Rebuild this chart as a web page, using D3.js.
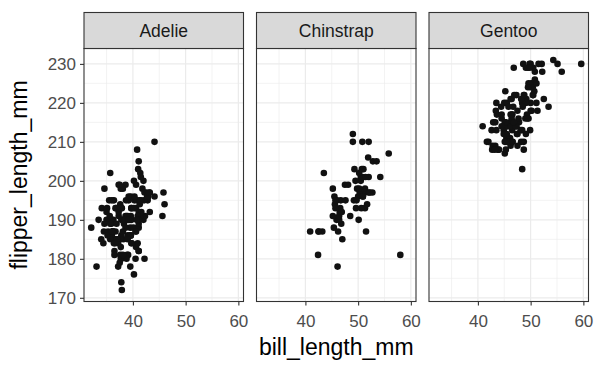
<!DOCTYPE html>
<html>
<head>
<meta charset="utf-8">
<script src="https://cdn.jsdelivr.net/npm/d3@7"></script>
<style>
  body { margin: 0; background: #fff; }
  text { font-family: "Liberation Sans", Arial, sans-serif; }
</style>
</head>
<body>
<svg id="chart" width="602" height="372"></svg>
<script>
// bill_length_mm, flipper_length_mm
const adelie = [[39.1,181],[39.5,186],[40.3,195],[36.7,193],[39.3,190],[38.9,181],[39.2,195],[34.1,193],[42,190],[37.8,186],
  [37.8,180],[41.1,182],[38.6,191],[34.6,198],[36.6,185],[38.7,195],[42.5,197],[34.4,184],[46,194],[37.8,174],
  [37.7,180],[35.9,189],[38.2,185],[38.8,180],[35.3,187],[40.6,183],[40.5,187],[37.9,172],[40.5,180],[39.5,178],
  [37.2,178],[39.5,188],[40.9,184],[36.4,195],[39.2,196],[38.8,190],[42.2,180],[37.6,181],[39.8,184],[36.5,182],
  [40.8,195],[36,186],[44.1,196],[37,185],[39.6,190],[41.1,182],[37.5,179],[36,190],[42.3,191],[39.6,186],
  [40.1,188],[35,190],[42,200],[34.5,187],[41.4,191],[39,186],[40.6,193],[36.5,181],[37.6,194],[35.7,185],
  [41.3,195],[37.6,185],[41.1,192],[36.4,184],[41.6,192],[35.5,195],[41.1,188],[35.9,190],[41.8,198],[33.5,190],
  [39.7,190],[39.6,196],[45.8,197],[35.5,190],[42.8,195],[40.9,191],[37.2,184],[36.2,187],[42.1,195],[34.6,189],
  [42.9,196],[36.7,187],[35.1,193],[37.3,191],[41.3,194],[36.3,190],[36.9,189],[38.3,189],[38.9,190],[35.7,202],
  [41.1,205],[34,185],[39.6,186],[36.2,187],[40.8,208],[38.1,190],[40.3,196],[33.1,178],[43.2,192],[35,192],
  [41,203],[37.7,183],[37.8,190],[37.9,193],[39.7,184],[38.6,199],[38.2,190],[38.1,181],[43.2,197],[38.1,198],
  [45.6,191],[39.7,193],[42.2,197],[39.6,191],[42.7,196],[38.6,188],[37.3,199],[35.7,189],[41.1,189],[36.2,187],
  [37.7,198],[40.2,176],[41.4,202],[35.2,186],[40.6,199],[38.8,191],[41.5,195],[39,191],[44.1,210],[38.5,190],
  [43.1,197],[36.8,193],[37.5,199],[38.1,187],[41.1,190],[35.6,191],[40.2,200],[37,185],[39.7,193],[40.2,193],
  [40.6,187],[32.1,188],[40.7,190],[37.3,192],[39,185],[39.2,190],[36.6,184],[36,195],[37.8,193],[36,187],[41.5,201]];

const chinstrap = [[46.5,192],[50,196],[51.3,193],[45.4,188],[52.7,197],[45.2,198],[46.1,178],[51.3,197],[46,195],[51.3,198],
  [46.6,193],[51.7,194],[47,185],[52,201],[45.9,190],[50.5,201],[50.3,197],[58,181],[46.4,190],[49.2,195],
  [42.4,181],[48.5,191],[43.2,187],[50.6,193],[46.7,195],[52,197],[50.5,200],[49.5,200],[46.4,191],[52.8,205],
  [40.9,187],[54.2,201],[42.5,187],[51,203],[49.7,195],[47.5,199],[47.6,195],[52,210],[46.9,192],[53.5,205],
  [49,210],[46.2,187],[50.9,196],[45.5,196],[50.9,196],[50.8,201],[50.1,190],[49,212],[51.5,187],[49.8,198],
  [48.1,199],[51.4,201],[45.7,193],[50.7,203],[42.5,187],[52.2,197],[45.2,191],[49.3,203],[50.2,202],[45.6,194],
  [51.9,206],[46.8,189],[45.7,195],[55.8,207],[43.5,202],[49.6,193],[50.8,210],[50.2,198]];

const gentoo = [[46.1,211],[50,230],[48.7,210],[50,218],[47.6,215],[46.5,210],[45.4,211],[46.7,219],[43.3,209],[46.8,215],
  [40.9,214],[49,216],[45.5,214],[48.4,213],[45.8,210],[49.3,217],[42,210],[49.2,221],[46.2,209],[48.7,222],
  [50.2,218],[45.1,215],[46.5,213],[46.3,215],[42.9,215],[46.1,215],[44.5,216],[47.8,215],[48.2,210],[50,220],
  [47.3,222],[42.8,209],[45.1,207],[59.6,230],[49.1,220],[48.4,220],[42.6,213],[44.4,219],[44,208],[48.7,208],
  [42.7,208],[49.6,225],[45.3,210],[49.6,216],[50.5,222],[43.6,217],[45.5,210],[50.5,225],[44.9,213],[45.2,215],
  [46.6,210],[48.5,220],[45.1,210],[50.1,225],[46.5,217],[45,220],[43.8,208],[45.5,220],[43.2,208],[50.4,224],
  [45.3,208],[46.2,221],[45.7,214],[54.3,231],[45.8,219],[49.8,230],[46.2,214],[49.5,229],[43.5,220],[50.7,223],
  [47.7,216],[46.4,221],[48.2,221],[46.5,217],[46.4,216],[48.6,230],[47.5,209],[51.1,220],[45.2,215],[45.2,223],
  [49.1,212],[52.5,221],[47.4,212],[50,224],[44.9,212],[50.8,228],[43.4,218],[51.3,218],[47.5,212],[52.1,230],
  [47.5,218],[52.2,228],[45.5,212],[49.5,224],[44.5,214],[50.8,226],[49.4,216],[46.9,222],[48.4,203],[51.1,225],
  [48.5,219],[55.9,228],[47.2,214],[49.1,229],[47.3,214],[46.8,229],[41.7,210],[53.4,219],[43.3,215],[48.1,213],
  [50.5,229],[49.8,229],[43.5,213],[51.5,230],[46.2,217],[55.1,230],[44.5,217],[48.8,222],[47.2,214],[46.8,215],
  [50.4,222],[45.2,212],[49.9,213]];

const species = ["Adelie", "Chinstrap", "Gentoo"];
const panelData = [adelie, chinstrap, gentoo];
const xTicks = [40, 50, 60];
const xMinor = [35, 45, 55];
const yTicks = [170, 180, 190, 200, 210, 220, 230];
const yMinor = [175, 185, 195, 205, 215, 225];

const svg = d3.select("#chart");
const left = 84, panelW = 159.5, gap = 13;
const stripTop = 12.5, stripH = 36, panelTop = stripTop + stripH, panelBottom = 301.5;
const tickFont = 17, stripFont = 17.5, titleFont = 23;

// ggplot-style 5% expansion
const xr = [32.1, 59.6], yr = [172, 231];
const xpad = (xr[1] - xr[0]) * 0.05, ypad = (yr[1] - yr[0]) * 0.05;
const y = d3.scaleLinear().domain([yr[0] - ypad, yr[1] + ypad]).range([panelBottom, panelTop]);

species.forEach((name, i) => {
  const x0 = left + i * (panelW + gap);
  const x = d3.scaleLinear().domain([xr[0] - xpad, xr[1] + xpad]).range([x0, x0 + panelW]);
  const g = svg.append("g");

  g.append("rect").attr("x", x0).attr("y", panelTop).attr("width", panelW).attr("height", panelBottom - panelTop).attr("fill", "#fff");

  // grid
  g.selectAll(".vmin").data(xMinor).join("line")
    .attr("x1", d => x(d)).attr("x2", d => x(d)).attr("y1", panelTop).attr("y2", panelBottom)
    .attr("stroke", "#ebebeb").attr("stroke-width", 0.6);
  g.selectAll(".hmin").data(yMinor).join("line")
    .attr("x1", x0).attr("x2", x0 + panelW).attr("y1", d => y(d)).attr("y2", d => y(d))
    .attr("stroke", "#ebebeb").attr("stroke-width", 0.6);
  g.selectAll(".vmaj").data(xTicks).join("line")
    .attr("x1", d => x(d)).attr("x2", d => x(d)).attr("y1", panelTop).attr("y2", panelBottom)
    .attr("stroke", "#ebebeb").attr("stroke-width", 1.2);
  g.selectAll(".hmaj").data(yTicks).join("line")
    .attr("x1", x0).attr("x2", x0 + panelW).attr("y1", d => y(d)).attr("y2", d => y(d))
    .attr("stroke", "#ebebeb").attr("stroke-width", 1.2);

  // points
  g.selectAll("circle").data(panelData[i]).join("circle")
    .attr("cx", d => x(d[0])).attr("cy", d => y(d[1])).attr("r", 3.3)
    .attr("fill", "#111");

  // panel border
  g.append("rect").attr("x", x0).attr("y", panelTop).attr("width", panelW).attr("height", panelBottom - panelTop)
    .attr("fill", "none").attr("stroke", "#333").attr("stroke-width", 1.1);

  // strip
  g.append("rect").attr("x", x0).attr("y", stripTop).attr("width", panelW).attr("height", stripH)
    .attr("fill", "#d9d9d9").attr("stroke", "#333").attr("stroke-width", 1.1);
  g.append("text").attr("x", x0 + panelW / 2).attr("y", stripTop + stripH / 2 + 6)
    .attr("text-anchor", "middle").attr("font-size", stripFont).attr("fill", "#1a1a1a").text(name);

  // x axis
  const ax = g.append("g").attr("transform", `translate(0,${panelBottom})`)
    .call(d3.axisBottom(x).tickValues(xTicks).tickSize(4).tickPadding(4));
  ax.select(".domain").remove();
  ax.selectAll("line").attr("stroke", "#333").attr("stroke-width", 1.1);
  ax.selectAll("text").attr("y", 25.5).attr("dy", null)
    .attr("font-size", tickFont).attr("fill", "#4d4d4d").attr("font-family", "Liberation Sans, Arial, sans-serif");

  if (i === 0) {
    const ay = g.append("g").attr("transform", `translate(${x0},0)`)
      .call(d3.axisLeft(y).tickValues(yTicks).tickSize(4).tickPadding(4));
    ay.select(".domain").remove();
    ay.selectAll("line").attr("stroke", "#333").attr("stroke-width", 1.1);
    ay.selectAll("text").attr("font-size", tickFont).attr("fill", "#4d4d4d").attr("font-family", "Liberation Sans, Arial, sans-serif");
  }
});

svg.append("text")
  .attr("x", left + (3 * panelW + 2 * gap) / 2).attr("y", 355)
  .attr("text-anchor", "middle").attr("font-size", titleFont).attr("fill", "#000")
  .text("bill_length_mm");

svg.append("text")
  .attr("transform", `translate(27,${(panelTop + panelBottom) / 2}) rotate(-90)`)
  .attr("text-anchor", "middle").attr("font-size", titleFont).attr("fill", "#000")
  .text("flipper_length_mm");
</script>
</body>
</html>
